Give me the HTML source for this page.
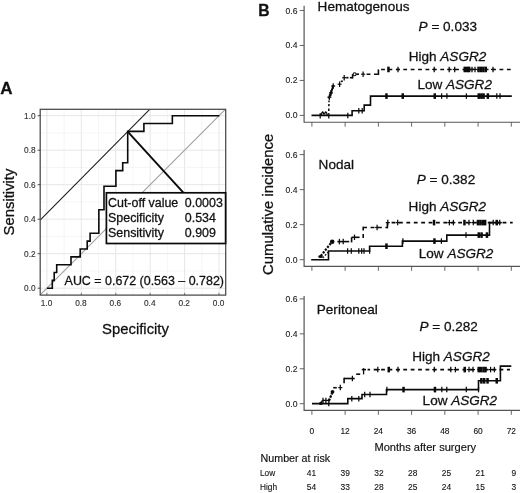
<!DOCTYPE html>
<html><head><meta charset="utf-8"><title>Figure</title>
<style>html,body{margin:0;padding:0;background:#fff;}svg{display:block}</style></head>
<body><svg width="520" height="493" viewBox="0 0 520 493">
<rect width="520" height="493" fill="#fff"/>
<rect x="40.2" y="109.3" width="185.5" height="185.8" fill="#fff" stroke="none"/>
<line x1="219.00" y1="109.3" x2="219.00" y2="295.1" stroke="#e3e3e3" stroke-width="0.9"/>
<line x1="40.2" y1="288.20" x2="225.7" y2="288.20" stroke="#e3e3e3" stroke-width="0.9"/>
<line x1="201.79" y1="109.3" x2="201.79" y2="295.1" stroke="#f0f0f0" stroke-width="0.6"/>
<line x1="40.2" y1="270.95" x2="225.7" y2="270.95" stroke="#f0f0f0" stroke-width="0.6"/>
<line x1="184.58" y1="109.3" x2="184.58" y2="295.1" stroke="#e3e3e3" stroke-width="0.9"/>
<line x1="40.2" y1="253.70" x2="225.7" y2="253.70" stroke="#e3e3e3" stroke-width="0.9"/>
<line x1="167.37" y1="109.3" x2="167.37" y2="295.1" stroke="#f0f0f0" stroke-width="0.6"/>
<line x1="40.2" y1="236.45" x2="225.7" y2="236.45" stroke="#f0f0f0" stroke-width="0.6"/>
<line x1="150.16" y1="109.3" x2="150.16" y2="295.1" stroke="#e3e3e3" stroke-width="0.9"/>
<line x1="40.2" y1="219.20" x2="225.7" y2="219.20" stroke="#e3e3e3" stroke-width="0.9"/>
<line x1="132.95" y1="109.3" x2="132.95" y2="295.1" stroke="#f0f0f0" stroke-width="0.6"/>
<line x1="40.2" y1="201.95" x2="225.7" y2="201.95" stroke="#f0f0f0" stroke-width="0.6"/>
<line x1="115.74" y1="109.3" x2="115.74" y2="295.1" stroke="#e3e3e3" stroke-width="0.9"/>
<line x1="40.2" y1="184.70" x2="225.7" y2="184.70" stroke="#e3e3e3" stroke-width="0.9"/>
<line x1="98.53" y1="109.3" x2="98.53" y2="295.1" stroke="#f0f0f0" stroke-width="0.6"/>
<line x1="40.2" y1="167.45" x2="225.7" y2="167.45" stroke="#f0f0f0" stroke-width="0.6"/>
<line x1="81.32" y1="109.3" x2="81.32" y2="295.1" stroke="#e3e3e3" stroke-width="0.9"/>
<line x1="40.2" y1="150.20" x2="225.7" y2="150.20" stroke="#e3e3e3" stroke-width="0.9"/>
<line x1="64.11" y1="109.3" x2="64.11" y2="295.1" stroke="#f0f0f0" stroke-width="0.6"/>
<line x1="40.2" y1="132.95" x2="225.7" y2="132.95" stroke="#f0f0f0" stroke-width="0.6"/>
<line x1="46.90" y1="109.3" x2="46.90" y2="295.1" stroke="#e3e3e3" stroke-width="0.9"/>
<line x1="40.2" y1="115.70" x2="225.7" y2="115.70" stroke="#e3e3e3" stroke-width="0.9"/>
<clipPath id="ca"><rect x="40.2" y="109.3" width="185.5" height="185.8"/></clipPath>
<g clip-path="url(#ca)">
<line x1="36.57" y1="298.55" x2="229.33" y2="105.35" stroke="#a2a2a2" stroke-width="1.1"/>
<line x1="27.700000000000003" y1="232.6" x2="167.7" y2="91.19999999999999" stroke="#1a1a1a" stroke-width="1.05"/>
</g>
<path d="M47.00,288.20 L52.30,288.20 L52.30,280.36 L54.20,280.36 L54.20,272.52 L56.70,272.52 L56.70,264.68 L71.00,264.68 L71.00,256.84 L80.20,256.84 L80.20,249.00 L87.20,249.00 L87.20,241.16 L90.10,241.16 L90.10,233.32 L98.85,233.32 L98.85,209.80 L104.00,209.80 L104.00,186.28 L115.90,186.28 L115.90,170.60 L122.70,170.60 L122.70,162.76 L127.70,162.76 L127.70,131.40 L143.90,131.40 L143.90,123.56 L172.35,123.56 L172.35,115.72 L219.40,115.72" fill="none" stroke="#0a0a0a" stroke-width="1.6" stroke-linejoin="miter"/>
<line x1="127.7" y1="131.6" x2="183.6" y2="192.8" stroke="#0a0a0a" stroke-width="1.9"/>
<rect x="40.2" y="109.3" width="185.5" height="185.8" fill="none" stroke="#484848" stroke-width="1.25"/>
<rect x="106.4" y="192.8" width="119.19999999999999" height="50.69999999999999" fill="#fff" stroke="#0a0a0a" stroke-width="1.7"/>
<text x="108.0" y="206.60" font-family="Liberation Sans, sans-serif" stroke="#111" stroke-width="0.28" stroke-linejoin="round" font-size="12.45" fill="#111">Cut-off value</text>
<text x="184.8" y="206.60" font-family="Liberation Sans, sans-serif" stroke="#111" stroke-width="0.28" stroke-linejoin="round" font-size="12.45" fill="#111">0.0003</text>
<text x="108.0" y="221.55" font-family="Liberation Sans, sans-serif" stroke="#111" stroke-width="0.28" stroke-linejoin="round" font-size="12.45" fill="#111">Specificity</text>
<text x="184.8" y="221.55" font-family="Liberation Sans, sans-serif" stroke="#111" stroke-width="0.28" stroke-linejoin="round" font-size="12.45" fill="#111">0.534</text>
<text x="108.0" y="236.50" font-family="Liberation Sans, sans-serif" stroke="#111" stroke-width="0.28" stroke-linejoin="round" font-size="12.45" fill="#111">Sensitivity</text>
<text x="184.8" y="236.50" font-family="Liberation Sans, sans-serif" stroke="#111" stroke-width="0.28" stroke-linejoin="round" font-size="12.45" fill="#111">0.909</text>
<text x="64.6" y="284.9" font-family="Liberation Sans, sans-serif" stroke="#111" stroke-width="0.28" stroke-linejoin="round" font-size="12.45" fill="#111">AUC = 0.672 (0.563 – 0.782)</text>
<line x1="37.6" y1="288.20" x2="40.2" y2="288.20" stroke="#3c3c3c" stroke-width="0.9"/>
<text x="35.6" y="291.00" text-anchor="end" font-family="Liberation Sans, sans-serif" stroke="#222" stroke-width="0.12" font-size="8.3" fill="#333">0.0</text>
<line x1="219.00" y1="292.90000000000003" x2="219.00" y2="295.1" stroke="#555" stroke-width="0.8"/>
<text x="218.60" y="305.8" text-anchor="middle" font-family="Liberation Sans, sans-serif" stroke="#222" stroke-width="0.12" font-size="8.3" fill="#333">0.0</text>
<line x1="37.6" y1="253.70" x2="40.2" y2="253.70" stroke="#3c3c3c" stroke-width="0.9"/>
<text x="35.6" y="256.50" text-anchor="end" font-family="Liberation Sans, sans-serif" stroke="#222" stroke-width="0.12" font-size="8.3" fill="#333">0.2</text>
<line x1="184.58" y1="292.90000000000003" x2="184.58" y2="295.1" stroke="#555" stroke-width="0.8"/>
<text x="184.18" y="305.8" text-anchor="middle" font-family="Liberation Sans, sans-serif" stroke="#222" stroke-width="0.12" font-size="8.3" fill="#333">0.2</text>
<line x1="37.6" y1="219.20" x2="40.2" y2="219.20" stroke="#3c3c3c" stroke-width="0.9"/>
<text x="35.6" y="222.00" text-anchor="end" font-family="Liberation Sans, sans-serif" stroke="#222" stroke-width="0.12" font-size="8.3" fill="#333">0.4</text>
<line x1="150.16" y1="292.90000000000003" x2="150.16" y2="295.1" stroke="#555" stroke-width="0.8"/>
<text x="149.76" y="305.8" text-anchor="middle" font-family="Liberation Sans, sans-serif" stroke="#222" stroke-width="0.12" font-size="8.3" fill="#333">0.4</text>
<line x1="37.6" y1="184.70" x2="40.2" y2="184.70" stroke="#3c3c3c" stroke-width="0.9"/>
<text x="35.6" y="187.50" text-anchor="end" font-family="Liberation Sans, sans-serif" stroke="#222" stroke-width="0.12" font-size="8.3" fill="#333">0.6</text>
<line x1="115.74" y1="292.90000000000003" x2="115.74" y2="295.1" stroke="#555" stroke-width="0.8"/>
<text x="115.34" y="305.8" text-anchor="middle" font-family="Liberation Sans, sans-serif" stroke="#222" stroke-width="0.12" font-size="8.3" fill="#333">0.6</text>
<line x1="37.6" y1="150.20" x2="40.2" y2="150.20" stroke="#3c3c3c" stroke-width="0.9"/>
<text x="35.6" y="153.00" text-anchor="end" font-family="Liberation Sans, sans-serif" stroke="#222" stroke-width="0.12" font-size="8.3" fill="#333">0.8</text>
<line x1="81.32" y1="292.90000000000003" x2="81.32" y2="295.1" stroke="#555" stroke-width="0.8"/>
<text x="80.92" y="305.8" text-anchor="middle" font-family="Liberation Sans, sans-serif" stroke="#222" stroke-width="0.12" font-size="8.3" fill="#333">0.8</text>
<line x1="37.6" y1="115.70" x2="40.2" y2="115.70" stroke="#3c3c3c" stroke-width="0.9"/>
<text x="35.6" y="118.50" text-anchor="end" font-family="Liberation Sans, sans-serif" stroke="#222" stroke-width="0.12" font-size="8.3" fill="#333">1.0</text>
<line x1="46.90" y1="292.90000000000003" x2="46.90" y2="295.1" stroke="#555" stroke-width="0.8"/>
<text x="46.50" y="305.8" text-anchor="middle" font-family="Liberation Sans, sans-serif" stroke="#222" stroke-width="0.12" font-size="8.3" fill="#333">1.0</text>
<text x="135.5" y="334.4" text-anchor="middle" font-family="Liberation Sans, sans-serif" stroke="#111" stroke-width="0.28" stroke-linejoin="round" font-size="14.85" fill="#111">Specificity</text>
<text transform="translate(13.8,202) rotate(-90)" text-anchor="middle" font-family="Liberation Sans, sans-serif" stroke="#111" stroke-width="0.28" stroke-linejoin="round" font-size="14.85" fill="#111">Sensitivity</text>
<text x="0.2" y="94.1" font-family="Liberation Sans, sans-serif" stroke="#111" stroke-width="0.28" stroke-linejoin="round" font-size="17" font-weight="bold" fill="#111">A</text>
<text x="258.2" y="16.1" font-family="Liberation Sans, sans-serif" stroke="#111" stroke-width="0.28" stroke-linejoin="round" font-size="15.7" font-weight="bold" fill="#111">B</text>
<path d="M304.1,5.7 L304.1,122.25 L520,122.25" fill="none" stroke="#555" stroke-width="1.2"/>
<line x1="299.70000000000005" y1="115.40" x2="304.1" y2="115.40" stroke="#555" stroke-width="0.9"/>
<text x="297.5" y="118.40" text-anchor="end" font-family="Liberation Sans, sans-serif" stroke="#222" stroke-width="0.12" font-size="8.6" fill="#222">0.0</text>
<line x1="299.70000000000005" y1="80.43" x2="304.1" y2="80.43" stroke="#555" stroke-width="0.9"/>
<text x="297.5" y="83.43" text-anchor="end" font-family="Liberation Sans, sans-serif" stroke="#222" stroke-width="0.12" font-size="8.6" fill="#222">0.2</text>
<line x1="299.70000000000005" y1="45.47" x2="304.1" y2="45.47" stroke="#555" stroke-width="0.9"/>
<text x="297.5" y="48.47" text-anchor="end" font-family="Liberation Sans, sans-serif" stroke="#222" stroke-width="0.12" font-size="8.6" fill="#222">0.4</text>
<line x1="299.70000000000005" y1="10.50" x2="304.1" y2="10.50" stroke="#555" stroke-width="0.9"/>
<text x="297.5" y="13.50" text-anchor="end" font-family="Liberation Sans, sans-serif" stroke="#222" stroke-width="0.12" font-size="8.6" fill="#222">0.6</text>
<line x1="311.90" y1="122.25" x2="311.90" y2="126.65" stroke="#555" stroke-width="0.9"/>
<line x1="345.13" y1="122.25" x2="345.13" y2="126.65" stroke="#555" stroke-width="0.9"/>
<line x1="378.37" y1="122.25" x2="378.37" y2="126.65" stroke="#555" stroke-width="0.9"/>
<line x1="411.60" y1="122.25" x2="411.60" y2="126.65" stroke="#555" stroke-width="0.9"/>
<line x1="444.83" y1="122.25" x2="444.83" y2="126.65" stroke="#555" stroke-width="0.9"/>
<line x1="478.07" y1="122.25" x2="478.07" y2="126.65" stroke="#555" stroke-width="0.9"/>
<line x1="511.30" y1="122.25" x2="511.30" y2="126.65" stroke="#555" stroke-width="0.9"/>
<path d="M304.1,149.9 L304.1,266.4 L520,266.4" fill="none" stroke="#555" stroke-width="1.2"/>
<line x1="299.70000000000005" y1="259.70" x2="304.1" y2="259.70" stroke="#555" stroke-width="0.9"/>
<text x="297.5" y="262.70" text-anchor="end" font-family="Liberation Sans, sans-serif" stroke="#222" stroke-width="0.12" font-size="8.6" fill="#222">0.0</text>
<line x1="299.70000000000005" y1="224.67" x2="304.1" y2="224.67" stroke="#555" stroke-width="0.9"/>
<text x="297.5" y="227.67" text-anchor="end" font-family="Liberation Sans, sans-serif" stroke="#222" stroke-width="0.12" font-size="8.6" fill="#222">0.2</text>
<line x1="299.70000000000005" y1="189.63" x2="304.1" y2="189.63" stroke="#555" stroke-width="0.9"/>
<text x="297.5" y="192.63" text-anchor="end" font-family="Liberation Sans, sans-serif" stroke="#222" stroke-width="0.12" font-size="8.6" fill="#222">0.4</text>
<line x1="299.70000000000005" y1="154.60" x2="304.1" y2="154.60" stroke="#555" stroke-width="0.9"/>
<text x="297.5" y="157.60" text-anchor="end" font-family="Liberation Sans, sans-serif" stroke="#222" stroke-width="0.12" font-size="8.6" fill="#222">0.6</text>
<line x1="311.90" y1="266.4" x2="311.90" y2="270.79999999999995" stroke="#555" stroke-width="0.9"/>
<line x1="345.13" y1="266.4" x2="345.13" y2="270.79999999999995" stroke="#555" stroke-width="0.9"/>
<line x1="378.37" y1="266.4" x2="378.37" y2="270.79999999999995" stroke="#555" stroke-width="0.9"/>
<line x1="411.60" y1="266.4" x2="411.60" y2="270.79999999999995" stroke="#555" stroke-width="0.9"/>
<line x1="444.83" y1="266.4" x2="444.83" y2="270.79999999999995" stroke="#555" stroke-width="0.9"/>
<line x1="478.07" y1="266.4" x2="478.07" y2="270.79999999999995" stroke="#555" stroke-width="0.9"/>
<line x1="511.30" y1="266.4" x2="511.30" y2="270.79999999999995" stroke="#555" stroke-width="0.9"/>
<path d="M304.1,296.1 L304.1,410.4 L520,410.4" fill="none" stroke="#555" stroke-width="1.2"/>
<line x1="299.70000000000005" y1="403.70" x2="304.1" y2="403.70" stroke="#555" stroke-width="0.9"/>
<text x="297.5" y="406.70" text-anchor="end" font-family="Liberation Sans, sans-serif" stroke="#222" stroke-width="0.12" font-size="8.6" fill="#222">0.0</text>
<line x1="299.70000000000005" y1="368.77" x2="304.1" y2="368.77" stroke="#555" stroke-width="0.9"/>
<text x="297.5" y="371.77" text-anchor="end" font-family="Liberation Sans, sans-serif" stroke="#222" stroke-width="0.12" font-size="8.6" fill="#222">0.2</text>
<line x1="299.70000000000005" y1="333.83" x2="304.1" y2="333.83" stroke="#555" stroke-width="0.9"/>
<text x="297.5" y="336.83" text-anchor="end" font-family="Liberation Sans, sans-serif" stroke="#222" stroke-width="0.12" font-size="8.6" fill="#222">0.4</text>
<line x1="299.70000000000005" y1="298.90" x2="304.1" y2="298.90" stroke="#555" stroke-width="0.9"/>
<text x="297.5" y="301.90" text-anchor="end" font-family="Liberation Sans, sans-serif" stroke="#222" stroke-width="0.12" font-size="8.6" fill="#222">0.6</text>
<line x1="311.90" y1="410.4" x2="311.90" y2="414.79999999999995" stroke="#555" stroke-width="0.9"/>
<line x1="345.13" y1="410.4" x2="345.13" y2="414.79999999999995" stroke="#555" stroke-width="0.9"/>
<line x1="378.37" y1="410.4" x2="378.37" y2="414.79999999999995" stroke="#555" stroke-width="0.9"/>
<line x1="411.60" y1="410.4" x2="411.60" y2="414.79999999999995" stroke="#555" stroke-width="0.9"/>
<line x1="444.83" y1="410.4" x2="444.83" y2="414.79999999999995" stroke="#555" stroke-width="0.9"/>
<line x1="478.07" y1="410.4" x2="478.07" y2="414.79999999999995" stroke="#555" stroke-width="0.9"/>
<line x1="511.30" y1="410.4" x2="511.30" y2="414.79999999999995" stroke="#555" stroke-width="0.9"/>
<path d="M311.50,115.40 L352.10,115.40 L352.10,110.80 L364.20,110.80 L364.20,105.10 L370.50,105.10 L370.50,96.10 L511.80,96.10" fill="none" stroke="#0a0a0a" stroke-width="1.6" stroke-linejoin="miter"/>
<line x1="320.20" y1="112.95" x2="320.20" y2="118.45" stroke="#0a0a0a" stroke-width="1.25"/>
<line x1="328.80" y1="112.95" x2="328.80" y2="118.45" stroke="#0a0a0a" stroke-width="1.25"/>
<path d="M321.3,115.4 Q322.4,108.80000000000001 323.8,114.4 M324.6,114.4 Q325.8,108.80000000000001 327.4,115.4" fill="none" stroke="#0a0a0a" stroke-width="1.3"/>
<line x1="347.80" y1="112.65" x2="347.80" y2="118.15" stroke="#0a0a0a" stroke-width="1.25"/>
<line x1="358.80" y1="108.05" x2="358.80" y2="113.55" stroke="#0a0a0a" stroke-width="1.25"/>
<line x1="362.20" y1="108.05" x2="362.20" y2="113.55" stroke="#0a0a0a" stroke-width="1.25"/>
<rect x="385.20" y="93.30" width="2.5" height="5.6" fill="#0a0a0a"/>
<rect x="401.50" y="93.30" width="2.5" height="5.6" fill="#0a0a0a"/>
<rect x="433.50" y="93.30" width="2.5" height="5.6" fill="#0a0a0a"/>
<rect x="486.60" y="93.30" width="2.5" height="5.6" fill="#0a0a0a"/>
<line x1="441.60" y1="93.35" x2="441.60" y2="98.85" stroke="#0a0a0a" stroke-width="1.25"/>
<line x1="446.90" y1="93.35" x2="446.90" y2="98.85" stroke="#0a0a0a" stroke-width="1.25"/>
<line x1="466.40" y1="93.35" x2="466.40" y2="98.85" stroke="#0a0a0a" stroke-width="1.25"/>
<line x1="496.80" y1="93.35" x2="496.80" y2="98.85" stroke="#0a0a0a" stroke-width="1.25"/>
<line x1="500.00" y1="93.35" x2="500.00" y2="98.85" stroke="#0a0a0a" stroke-width="1.25"/>
<rect x="477.50" y="93.30" width="2.5" height="5.6" fill="#0a0a0a"/>
<rect x="480.10" y="93.30" width="2.5" height="5.6" fill="#0a0a0a"/>
<rect x="482.30" y="93.30" width="2.5" height="5.6" fill="#0a0a0a"/>
<line x1="328.80" y1="111.00" x2="328.80" y2="108.60" stroke="#0a0a0a" stroke-width="1.5"/>
<line x1="328.90" y1="106.20" x2="328.90" y2="104.00" stroke="#0a0a0a" stroke-width="1.5"/>
<line x1="329.00" y1="102.20" x2="329.00" y2="100.40" stroke="#0a0a0a" stroke-width="1.5"/>
<line x1="328.90" y1="98.60" x2="333.50" y2="85.20" stroke="#0a0a0a" stroke-width="2.0"/>
<line x1="329.40" y1="94.45" x2="329.40" y2="99.95" stroke="#0a0a0a" stroke-width="1.25"/>
<line x1="327.40" y1="97.20" x2="331.40" y2="97.20" stroke="#0a0a0a" stroke-width="1.2"/>
<line x1="331.00" y1="90.15" x2="331.00" y2="95.65" stroke="#0a0a0a" stroke-width="1.25"/>
<line x1="329.00" y1="92.90" x2="333.00" y2="92.90" stroke="#0a0a0a" stroke-width="1.2"/>
<line x1="333.20" y1="83.25" x2="333.20" y2="88.75" stroke="#0a0a0a" stroke-width="1.25"/>
<line x1="331.20" y1="86.00" x2="335.20" y2="86.00" stroke="#0a0a0a" stroke-width="1.2"/>
<line x1="339.60" y1="81.45" x2="339.60" y2="86.95" stroke="#0a0a0a" stroke-width="1.25"/>
<line x1="337.60" y1="84.20" x2="341.60" y2="84.20" stroke="#0a0a0a" stroke-width="1.2"/>
<line x1="340.80" y1="81.30" x2="342.80" y2="81.30" stroke="#0a0a0a" stroke-width="1.6"/>
<line x1="344.20" y1="74.95" x2="344.20" y2="80.45" stroke="#0a0a0a" stroke-width="1.25"/>
<line x1="342.20" y1="77.70" x2="346.20" y2="77.70" stroke="#0a0a0a" stroke-width="1.2"/>
<line x1="346.20" y1="77.70" x2="348.50" y2="77.70" stroke="#0a0a0a" stroke-width="1.6"/>
<line x1="349.90" y1="77.70" x2="352.60" y2="77.70" stroke="#0a0a0a" stroke-width="1.6"/>
<line x1="352.60" y1="78.50" x2="352.60" y2="74.20" stroke="#0a0a0a" stroke-width="1.6"/>
<circle cx="354.6" cy="74.2" r="1.5" fill="#fff" stroke="#0a0a0a" stroke-width="1.1"/>
<line x1="356.20" y1="74.20" x2="359.00" y2="74.20" stroke="#0a0a0a" stroke-width="1.6"/>
<line x1="363.10" y1="71.45" x2="363.10" y2="76.95" stroke="#0a0a0a" stroke-width="1.25"/>
<line x1="361.10" y1="74.20" x2="365.10" y2="74.20" stroke="#0a0a0a" stroke-width="1.2"/>
<line x1="366.60" y1="74.20" x2="378.40" y2="74.20" stroke="#0a0a0a" stroke-width="1.6" stroke-dasharray="3.8 3.6" stroke-dashoffset="0"/>
<line x1="378.40" y1="75.00" x2="378.40" y2="69.45" stroke="#0a0a0a" stroke-width="1.6"/>
<line x1="379.50" y1="69.45" x2="510.90" y2="69.45" stroke="#0a0a0a" stroke-width="1.6" stroke-dasharray="3.8 3.6" stroke-dashoffset="5.8"/>
<rect x="387.20" y="66.65" width="2.5" height="5.6" fill="#0a0a0a"/>
<line x1="398.00" y1="66.70" x2="398.00" y2="72.20" stroke="#0a0a0a" stroke-width="1.25"/>
<line x1="396.00" y1="69.45" x2="400.00" y2="69.45" stroke="#0a0a0a" stroke-width="1.2"/>
<line x1="434.20" y1="66.70" x2="434.20" y2="72.20" stroke="#0a0a0a" stroke-width="1.25"/>
<line x1="432.20" y1="69.45" x2="436.20" y2="69.45" stroke="#0a0a0a" stroke-width="1.2"/>
<line x1="449.20" y1="66.70" x2="449.20" y2="72.20" stroke="#0a0a0a" stroke-width="1.25"/>
<line x1="447.20" y1="69.45" x2="451.20" y2="69.45" stroke="#0a0a0a" stroke-width="1.2"/>
<line x1="454.70" y1="66.70" x2="454.70" y2="72.20" stroke="#0a0a0a" stroke-width="1.25"/>
<line x1="452.70" y1="69.45" x2="456.70" y2="69.45" stroke="#0a0a0a" stroke-width="1.2"/>
<line x1="472.00" y1="66.70" x2="472.00" y2="72.20" stroke="#0a0a0a" stroke-width="1.25"/>
<line x1="470.00" y1="69.45" x2="474.00" y2="69.45" stroke="#0a0a0a" stroke-width="1.2"/>
<line x1="475.00" y1="66.70" x2="475.00" y2="72.20" stroke="#0a0a0a" stroke-width="1.25"/>
<line x1="473.00" y1="69.45" x2="477.00" y2="69.45" stroke="#0a0a0a" stroke-width="1.2"/>
<line x1="493.00" y1="66.70" x2="493.00" y2="72.20" stroke="#0a0a0a" stroke-width="1.25"/>
<line x1="491.00" y1="69.45" x2="495.00" y2="69.45" stroke="#0a0a0a" stroke-width="1.2"/>
<rect x="463.50" y="66.65" width="2.5" height="5.6" fill="#0a0a0a"/>
<rect x="465.90" y="66.65" width="2.5" height="5.6" fill="#0a0a0a"/>
<rect x="467.90" y="66.65" width="2.5" height="5.6" fill="#0a0a0a"/>
<rect x="477.30" y="66.65" width="2.5" height="5.6" fill="#0a0a0a"/>
<rect x="479.70" y="66.65" width="2.5" height="5.6" fill="#0a0a0a"/>
<rect x="482.10" y="66.65" width="2.5" height="5.6" fill="#0a0a0a"/>
<rect x="484.50" y="66.65" width="2.5" height="5.6" fill="#0a0a0a"/>
<path d="M311.20,259.80 L328.50,259.80 L328.50,251.00 L369.60,251.00 L369.60,246.20 L402.40,246.20 L402.40,241.10 L446.80,241.10 L446.80,235.10 L489.50,235.10 L489.50,222.60 L501.40,222.60" fill="none" stroke="#0a0a0a" stroke-width="1.6" stroke-linejoin="miter"/>
<line x1="347.60" y1="248.25" x2="347.60" y2="253.75" stroke="#0a0a0a" stroke-width="1.25"/>
<line x1="351.30" y1="248.25" x2="351.30" y2="253.75" stroke="#0a0a0a" stroke-width="1.25"/>
<line x1="358.80" y1="248.25" x2="358.80" y2="253.75" stroke="#0a0a0a" stroke-width="1.25"/>
<line x1="361.70" y1="248.25" x2="361.70" y2="253.75" stroke="#0a0a0a" stroke-width="1.25"/>
<line x1="364.00" y1="248.25" x2="364.00" y2="253.75" stroke="#0a0a0a" stroke-width="1.25"/>
<line x1="369.60" y1="248.25" x2="369.60" y2="253.75" stroke="#0a0a0a" stroke-width="1.25"/>
<rect x="385.20" y="243.40" width="2.5" height="5.6" fill="#0a0a0a"/>
<line x1="402.90" y1="238.35" x2="402.90" y2="243.85" stroke="#0a0a0a" stroke-width="1.25"/>
<rect x="433.20" y="238.30" width="2.5" height="5.6" fill="#0a0a0a"/>
<line x1="441.40" y1="238.35" x2="441.40" y2="243.85" stroke="#0a0a0a" stroke-width="1.25"/>
<line x1="466.00" y1="232.35" x2="466.00" y2="237.85" stroke="#0a0a0a" stroke-width="1.25"/>
<rect x="477.50" y="232.30" width="2.5" height="5.6" fill="#0a0a0a"/>
<rect x="480.30" y="232.30" width="2.5" height="5.6" fill="#0a0a0a"/>
<rect x="485.70" y="232.30" width="2.5" height="5.6" fill="#0a0a0a"/>
<ellipse cx="320.5" cy="256.4" rx="2.3" ry="1.5" fill="#0a0a0a"/>
<line x1="320.8" y1="256.0" x2="331.8" y2="242.0" stroke="#0a0a0a" stroke-width="2.1" stroke-dasharray="2.2 1.3"/>
<line x1="322.6" y1="258.0" x2="328.2" y2="252.0" stroke="#0a0a0a" stroke-width="1.2" stroke-dasharray="2 1.4"/>
<circle cx="332.20" cy="241.70" r="2.3" fill="#0a0a0a"/>
<line x1="337.40" y1="241.60" x2="349.20" y2="241.60" stroke="#0a0a0a" stroke-width="1.6"/>
<line x1="339.40" y1="238.85" x2="339.40" y2="244.35" stroke="#0a0a0a" stroke-width="1.25"/>
<line x1="343.20" y1="238.85" x2="343.20" y2="244.35" stroke="#0a0a0a" stroke-width="1.25"/>
<line x1="351.60" y1="242.40" x2="351.60" y2="237.30" stroke="#0a0a0a" stroke-width="1.6"/>
<line x1="351.60" y1="237.30" x2="359.60" y2="237.30" stroke="#0a0a0a" stroke-width="1.6"/>
<line x1="354.50" y1="234.55" x2="354.50" y2="240.05" stroke="#0a0a0a" stroke-width="1.25"/>
<line x1="363.20" y1="237.90" x2="363.20" y2="233.90" stroke="#0a0a0a" stroke-width="1.6"/>
<line x1="363.20" y1="230.40" x2="363.20" y2="226.70" stroke="#0a0a0a" stroke-width="1.6"/>
<line x1="363.20" y1="227.50" x2="387.20" y2="227.50" stroke="#0a0a0a" stroke-width="1.6" stroke-dasharray="3.8 3.6" stroke-dashoffset="0"/>
<line x1="377.10" y1="224.75" x2="377.10" y2="230.25" stroke="#0a0a0a" stroke-width="1.25"/>
<line x1="375.10" y1="227.50" x2="379.10" y2="227.50" stroke="#0a0a0a" stroke-width="1.2"/>
<line x1="387.40" y1="228.30" x2="387.40" y2="222.60" stroke="#0a0a0a" stroke-width="1.6"/>
<line x1="387.40" y1="222.60" x2="512.70" y2="222.60" stroke="#0a0a0a" stroke-width="1.6" stroke-dasharray="3.8 3.6" stroke-dashoffset="3.2"/>
<line x1="387.80" y1="219.85" x2="387.80" y2="225.35" stroke="#0a0a0a" stroke-width="1.25"/>
<line x1="385.80" y1="222.60" x2="389.80" y2="222.60" stroke="#0a0a0a" stroke-width="1.2"/>
<line x1="397.70" y1="219.85" x2="397.70" y2="225.35" stroke="#0a0a0a" stroke-width="1.25"/>
<line x1="395.70" y1="222.60" x2="399.70" y2="222.60" stroke="#0a0a0a" stroke-width="1.2"/>
<rect x="432.80" y="219.80" width="2.5" height="5.6" fill="#0a0a0a"/>
<rect x="463.20" y="219.80" width="2.5" height="5.6" fill="#0a0a0a"/>
<rect x="495.50" y="219.80" width="2.5" height="5.6" fill="#0a0a0a"/>
<line x1="449.40" y1="219.85" x2="449.40" y2="225.35" stroke="#0a0a0a" stroke-width="1.25"/>
<line x1="447.40" y1="222.60" x2="451.40" y2="222.60" stroke="#0a0a0a" stroke-width="1.2"/>
<line x1="453.40" y1="219.85" x2="453.40" y2="225.35" stroke="#0a0a0a" stroke-width="1.25"/>
<line x1="451.40" y1="222.60" x2="455.40" y2="222.60" stroke="#0a0a0a" stroke-width="1.2"/>
<line x1="469.00" y1="219.85" x2="469.00" y2="225.35" stroke="#0a0a0a" stroke-width="1.25"/>
<line x1="467.00" y1="222.60" x2="471.00" y2="222.60" stroke="#0a0a0a" stroke-width="1.2"/>
<line x1="473.30" y1="219.85" x2="473.30" y2="225.35" stroke="#0a0a0a" stroke-width="1.25"/>
<line x1="471.30" y1="222.60" x2="475.30" y2="222.60" stroke="#0a0a0a" stroke-width="1.2"/>
<line x1="493.20" y1="219.85" x2="493.20" y2="225.35" stroke="#0a0a0a" stroke-width="1.25"/>
<line x1="491.20" y1="222.60" x2="495.20" y2="222.60" stroke="#0a0a0a" stroke-width="1.2"/>
<line x1="499.70" y1="219.85" x2="499.70" y2="225.35" stroke="#0a0a0a" stroke-width="1.25"/>
<line x1="497.70" y1="222.60" x2="501.70" y2="222.60" stroke="#0a0a0a" stroke-width="1.2"/>
<rect x="476.70" y="219.80" width="2.5" height="5.6" fill="#0a0a0a"/>
<rect x="479.10" y="219.80" width="2.5" height="5.6" fill="#0a0a0a"/>
<rect x="481.50" y="219.80" width="2.5" height="5.6" fill="#0a0a0a"/>
<rect x="483.90" y="219.80" width="2.5" height="5.6" fill="#0a0a0a"/>
<path d="M312.00,403.60 L347.80,403.60 L347.80,398.65 L362.00,398.65 L362.00,394.50 L386.50,394.50 L386.50,389.60 L478.50,389.60 L478.50,380.80 L500.40,380.80 L500.40,366.10 L511.30,366.10" fill="none" stroke="#0a0a0a" stroke-width="1.6" stroke-linejoin="miter"/>
<line x1="351.80" y1="395.90" x2="351.80" y2="401.40" stroke="#0a0a0a" stroke-width="1.25"/>
<line x1="358.80" y1="395.90" x2="358.80" y2="401.40" stroke="#0a0a0a" stroke-width="1.25"/>
<line x1="364.70" y1="391.75" x2="364.70" y2="397.25" stroke="#0a0a0a" stroke-width="1.25"/>
<line x1="370.00" y1="391.75" x2="370.00" y2="397.25" stroke="#0a0a0a" stroke-width="1.25"/>
<line x1="386.90" y1="386.85" x2="386.90" y2="392.35" stroke="#0a0a0a" stroke-width="1.25"/>
<rect x="402.30" y="386.80" width="2.5" height="5.6" fill="#0a0a0a"/>
<rect x="433.70" y="386.80" width="2.5" height="5.6" fill="#0a0a0a"/>
<line x1="441.80" y1="386.85" x2="441.80" y2="392.35" stroke="#0a0a0a" stroke-width="1.25"/>
<line x1="446.80" y1="386.85" x2="446.80" y2="392.35" stroke="#0a0a0a" stroke-width="1.25"/>
<line x1="466.30" y1="386.85" x2="466.30" y2="392.35" stroke="#0a0a0a" stroke-width="1.25"/>
<line x1="478.50" y1="386.85" x2="478.50" y2="392.35" stroke="#0a0a0a" stroke-width="1.25"/>
<rect x="480.10" y="378.00" width="2.5" height="5.6" fill="#0a0a0a"/>
<rect x="482.90" y="378.00" width="2.5" height="5.6" fill="#0a0a0a"/>
<rect x="486.30" y="378.00" width="2.5" height="5.6" fill="#0a0a0a"/>
<rect x="495.50" y="378.00" width="2.5" height="5.6" fill="#0a0a0a"/>
<ellipse cx="320.9" cy="403.4" rx="1.9" ry="1.7" fill="#0a0a0a"/>
<line x1="321.00" y1="402.60" x2="322.60" y2="400.40" stroke="#0a0a0a" stroke-width="1.4"/>
<line x1="322.00" y1="400.40" x2="328.20" y2="400.40" stroke="#0a0a0a" stroke-width="1.3"/>
<line x1="323.00" y1="397.65" x2="323.00" y2="403.15" stroke="#0a0a0a" stroke-width="1.25"/>
<line x1="325.90" y1="397.65" x2="325.90" y2="403.15" stroke="#0a0a0a" stroke-width="1.25"/>
<line x1="328.8" y1="398.8" x2="328.8" y2="406.2" stroke="#0a0a0a" stroke-width="1.3"/>
<line x1="328.9" y1="401.0" x2="332.3" y2="392.4" stroke="#0a0a0a" stroke-width="2.2" stroke-dasharray="2.6 0.9"/>
<circle cx="332.50" cy="391.80" r="1.9" fill="#0a0a0a"/>
<line x1="333.20" y1="387.70" x2="336.80" y2="387.70" stroke="#0a0a0a" stroke-width="1.6"/>
<line x1="340.30" y1="384.85" x2="340.30" y2="390.35" stroke="#0a0a0a" stroke-width="1.25"/>
<line x1="338.30" y1="387.60" x2="342.30" y2="387.60" stroke="#0a0a0a" stroke-width="1.2"/>
<line x1="344.10" y1="383.20" x2="344.10" y2="377.80" stroke="#0a0a0a" stroke-width="1.6"/>
<line x1="344.10" y1="378.50" x2="354.70" y2="378.50" stroke="#0a0a0a" stroke-width="1.6"/>
<line x1="352.40" y1="375.75" x2="352.40" y2="381.25" stroke="#0a0a0a" stroke-width="1.25"/>
<line x1="356.20" y1="374.20" x2="360.20" y2="374.20" stroke="#0a0a0a" stroke-width="1.6"/>
<line x1="363.60" y1="374.40" x2="363.60" y2="368.20" stroke="#0a0a0a" stroke-width="1.3"/>
<line x1="361.80" y1="369.60" x2="366.00" y2="369.60" stroke="#0a0a0a" stroke-width="1.6"/>
<line x1="367.60" y1="369.60" x2="510.00" y2="369.60" stroke="#0a0a0a" stroke-width="1.6" stroke-dasharray="3.8 3.6" stroke-dashoffset="1.3"/>
<line x1="377.80" y1="366.85" x2="377.80" y2="372.35" stroke="#0a0a0a" stroke-width="1.25"/>
<line x1="375.80" y1="369.60" x2="379.80" y2="369.60" stroke="#0a0a0a" stroke-width="1.2"/>
<line x1="398.00" y1="366.85" x2="398.00" y2="372.35" stroke="#0a0a0a" stroke-width="1.25"/>
<line x1="396.00" y1="369.60" x2="400.00" y2="369.60" stroke="#0a0a0a" stroke-width="1.2"/>
<line x1="434.30" y1="366.85" x2="434.30" y2="372.35" stroke="#0a0a0a" stroke-width="1.25"/>
<line x1="432.30" y1="369.60" x2="436.30" y2="369.60" stroke="#0a0a0a" stroke-width="1.2"/>
<line x1="450.80" y1="366.85" x2="450.80" y2="372.35" stroke="#0a0a0a" stroke-width="1.25"/>
<line x1="448.80" y1="369.60" x2="452.80" y2="369.60" stroke="#0a0a0a" stroke-width="1.2"/>
<line x1="455.40" y1="366.85" x2="455.40" y2="372.35" stroke="#0a0a0a" stroke-width="1.25"/>
<line x1="453.40" y1="369.60" x2="457.40" y2="369.60" stroke="#0a0a0a" stroke-width="1.2"/>
<line x1="469.00" y1="366.85" x2="469.00" y2="372.35" stroke="#0a0a0a" stroke-width="1.25"/>
<line x1="467.00" y1="369.60" x2="471.00" y2="369.60" stroke="#0a0a0a" stroke-width="1.2"/>
<line x1="473.00" y1="366.85" x2="473.00" y2="372.35" stroke="#0a0a0a" stroke-width="1.25"/>
<line x1="471.00" y1="369.60" x2="475.00" y2="369.60" stroke="#0a0a0a" stroke-width="1.2"/>
<line x1="490.60" y1="366.85" x2="490.60" y2="372.35" stroke="#0a0a0a" stroke-width="1.25"/>
<line x1="488.60" y1="369.60" x2="492.60" y2="369.60" stroke="#0a0a0a" stroke-width="1.2"/>
<line x1="494.40" y1="366.85" x2="494.40" y2="372.35" stroke="#0a0a0a" stroke-width="1.25"/>
<line x1="492.40" y1="369.60" x2="496.40" y2="369.60" stroke="#0a0a0a" stroke-width="1.2"/>
<rect x="387.50" y="366.80" width="2.5" height="5.6" fill="#0a0a0a"/>
<rect x="463.50" y="366.80" width="2.5" height="5.6" fill="#0a0a0a"/>
<rect x="477.50" y="366.80" width="2.5" height="5.6" fill="#0a0a0a"/>
<rect x="479.90" y="366.80" width="2.5" height="5.6" fill="#0a0a0a"/>
<rect x="482.30" y="366.80" width="2.5" height="5.6" fill="#0a0a0a"/>
<rect x="484.30" y="366.80" width="2.5" height="5.6" fill="#0a0a0a"/>
<text x="317.6" y="11.0" text-anchor="start" font-family="Liberation Sans, sans-serif" stroke="#111" stroke-width="0.28" stroke-linejoin="round" font-size="13.55" fill="#111">Hematogenous</text>
<text x="318.6" y="169.0" text-anchor="start" font-family="Liberation Sans, sans-serif" stroke="#111" stroke-width="0.28" stroke-linejoin="round" font-size="13.55" fill="#111">Nodal</text>
<text x="316.8" y="314.3" text-anchor="start" font-family="Liberation Sans, sans-serif" stroke="#111" stroke-width="0.28" stroke-linejoin="round" font-size="13.55" fill="#111">Peritoneal</text>
<text x="418.6" y="30.8" text-anchor="start" font-family="Liberation Sans, sans-serif" stroke="#111" stroke-width="0.28" stroke-linejoin="round" font-size="13.55" fill="#111"><tspan font-style="italic">P</tspan> = 0.033</text>
<text x="416.8" y="183.5" text-anchor="start" font-family="Liberation Sans, sans-serif" stroke="#111" stroke-width="0.28" stroke-linejoin="round" font-size="13.55" fill="#111"><tspan font-style="italic">P</tspan> = 0.382</text>
<text x="419.4" y="330.9" text-anchor="start" font-family="Liberation Sans, sans-serif" stroke="#111" stroke-width="0.28" stroke-linejoin="round" font-size="13.55" fill="#111"><tspan font-style="italic">P</tspan> = 0.282</text>
<text x="408.7" y="60.5" text-anchor="start" font-family="Liberation Sans, sans-serif" stroke="#111" stroke-width="0.28" stroke-linejoin="round" font-size="13.55" fill="#111">High <tspan font-style="italic">ASGR2</tspan></text>
<text x="417.4" y="88.6" text-anchor="start" font-family="Liberation Sans, sans-serif" stroke="#111" stroke-width="0.28" stroke-linejoin="round" font-size="13.55" fill="#111">Low <tspan font-style="italic">ASGR2</tspan></text>
<text x="408.6" y="211.0" text-anchor="start" font-family="Liberation Sans, sans-serif" stroke="#111" stroke-width="0.28" stroke-linejoin="round" font-size="13.55" fill="#111">High <tspan font-style="italic">ASGR2</tspan></text>
<text x="418.8" y="258.2" text-anchor="start" font-family="Liberation Sans, sans-serif" stroke="#111" stroke-width="0.28" stroke-linejoin="round" font-size="13.55" fill="#111">Low <tspan font-style="italic">ASGR2</tspan></text>
<text x="412.2" y="360.9" text-anchor="start" font-family="Liberation Sans, sans-serif" stroke="#111" stroke-width="0.28" stroke-linejoin="round" font-size="13.55" fill="#111">High <tspan font-style="italic">ASGR2</tspan></text>
<text x="422.6" y="405.4" text-anchor="start" font-family="Liberation Sans, sans-serif" stroke="#111" stroke-width="0.28" stroke-linejoin="round" font-size="13.55" fill="#111">Low <tspan font-style="italic">ASGR2</tspan></text>
<text transform="translate(272.7,204.4) rotate(-90)" text-anchor="middle" font-family="Liberation Sans, sans-serif" stroke="#111" stroke-width="0.28" stroke-linejoin="round" font-size="14.85" fill="#111">Cumulative incidence</text>
<text x="311.90" y="434.3" text-anchor="middle" font-family="Liberation Sans, sans-serif" stroke="#222" stroke-width="0.12" font-size="8.4" fill="#111">0</text>
<text x="345.13" y="434.3" text-anchor="middle" font-family="Liberation Sans, sans-serif" stroke="#222" stroke-width="0.12" font-size="8.4" fill="#111">12</text>
<text x="378.37" y="434.3" text-anchor="middle" font-family="Liberation Sans, sans-serif" stroke="#222" stroke-width="0.12" font-size="8.4" fill="#111">24</text>
<text x="411.60" y="434.3" text-anchor="middle" font-family="Liberation Sans, sans-serif" stroke="#222" stroke-width="0.12" font-size="8.4" fill="#111">36</text>
<text x="444.83" y="434.3" text-anchor="middle" font-family="Liberation Sans, sans-serif" stroke="#222" stroke-width="0.12" font-size="8.4" fill="#111">48</text>
<text x="478.07" y="434.3" text-anchor="middle" font-family="Liberation Sans, sans-serif" stroke="#222" stroke-width="0.12" font-size="8.4" fill="#111">60</text>
<text x="511.30" y="434.3" text-anchor="middle" font-family="Liberation Sans, sans-serif" stroke="#222" stroke-width="0.12" font-size="8.4" fill="#111">72</text>
<text x="374.4" y="451.3" text-anchor="start" font-family="Liberation Sans, sans-serif" stroke="#111" stroke-width="0.16" font-size="11.1" fill="#111">Months after surgery</text>
<text x="260.6" y="462.0" text-anchor="start" font-family="Liberation Sans, sans-serif" stroke="#111" stroke-width="0.16" font-size="10.7" fill="#111">Number at risk</text>
<text x="260.0" y="475.8" text-anchor="start" font-family="Liberation Sans, sans-serif" stroke="#222" stroke-width="0.12" font-size="8.3" fill="#111">Low</text>
<text x="260.0" y="489.5" text-anchor="start" font-family="Liberation Sans, sans-serif" stroke="#222" stroke-width="0.12" font-size="8.3" fill="#111">High</text>
<text x="311.40" y="475.8" text-anchor="middle" font-family="Liberation Sans, sans-serif" stroke="#222" stroke-width="0.12" font-size="8.4" fill="#111">41</text>
<text x="311.40" y="489.5" text-anchor="middle" font-family="Liberation Sans, sans-serif" stroke="#222" stroke-width="0.12" font-size="8.4" fill="#111">54</text>
<text x="345.15" y="475.8" text-anchor="middle" font-family="Liberation Sans, sans-serif" stroke="#222" stroke-width="0.12" font-size="8.4" fill="#111">39</text>
<text x="345.15" y="489.5" text-anchor="middle" font-family="Liberation Sans, sans-serif" stroke="#222" stroke-width="0.12" font-size="8.4" fill="#111">33</text>
<text x="378.90" y="475.8" text-anchor="middle" font-family="Liberation Sans, sans-serif" stroke="#222" stroke-width="0.12" font-size="8.4" fill="#111">32</text>
<text x="378.90" y="489.5" text-anchor="middle" font-family="Liberation Sans, sans-serif" stroke="#222" stroke-width="0.12" font-size="8.4" fill="#111">28</text>
<text x="412.65" y="475.8" text-anchor="middle" font-family="Liberation Sans, sans-serif" stroke="#222" stroke-width="0.12" font-size="8.4" fill="#111">28</text>
<text x="412.65" y="489.5" text-anchor="middle" font-family="Liberation Sans, sans-serif" stroke="#222" stroke-width="0.12" font-size="8.4" fill="#111">25</text>
<text x="446.40" y="475.8" text-anchor="middle" font-family="Liberation Sans, sans-serif" stroke="#222" stroke-width="0.12" font-size="8.4" fill="#111">25</text>
<text x="446.40" y="489.5" text-anchor="middle" font-family="Liberation Sans, sans-serif" stroke="#222" stroke-width="0.12" font-size="8.4" fill="#111">24</text>
<text x="480.15" y="475.8" text-anchor="middle" font-family="Liberation Sans, sans-serif" stroke="#222" stroke-width="0.12" font-size="8.4" fill="#111">21</text>
<text x="480.15" y="489.5" text-anchor="middle" font-family="Liberation Sans, sans-serif" stroke="#222" stroke-width="0.12" font-size="8.4" fill="#111">15</text>
<text x="513.90" y="475.8" text-anchor="middle" font-family="Liberation Sans, sans-serif" stroke="#222" stroke-width="0.12" font-size="8.4" fill="#111">9</text>
<text x="513.90" y="489.5" text-anchor="middle" font-family="Liberation Sans, sans-serif" stroke="#222" stroke-width="0.12" font-size="8.4" fill="#111">3</text>
</svg></body></html>
